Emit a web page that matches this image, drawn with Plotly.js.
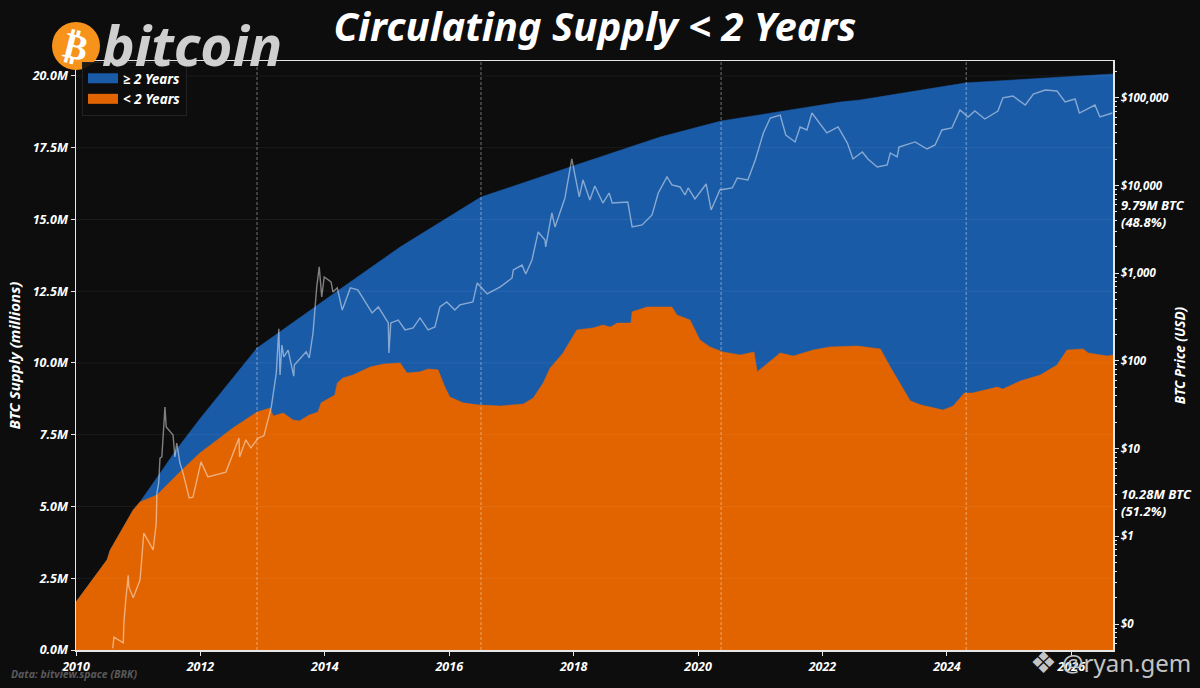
<!DOCTYPE html>
<html>
<head>
<meta charset="utf-8">
<script src="https://cdn.plot.ly/plotly-3.0.1.min.js"></script>
<style>html,body{margin:0;padding:0;background:#0d0d0d}#chart{width:1200px;height:688px}</style>
</head>
<body>
<div id="chart"></div>
<script>
const totalYears = [2010.00,2010.50,2010.55,2010.92,2011.03,2011.61,2011.99,2012.91,2014.18,2015.21,2016.51,2016.85,2017.99,2019.39,2020.37,2022.28,2022.60,2024.31,2026.67];
const totalSupply = [1.67,3.14,3.48,4.88,5.16,6.97,8.05,10.52,12.47,14.04,15.78,16.03,16.86,17.87,18.43,19.09,19.16,19.76,20.07];

const youngYears = [2010.00,2010.50,2010.55,2010.92,2011.03,2011.30,2011.67,2011.99,2012.27,2012.52,2012.91,2013.12,2013.17,2013.33,2013.49,2013.59,2013.75,2013.89,2013.94,2014.16,2014.20,2014.29,2014.45,2014.73,2014.94,2015.21,2015.32,2015.53,2015.66,2015.82,2015.93,2016.01,2016.22,2016.45,2016.82,2017.19,2017.35,2017.51,2017.62,2017.83,2018.05,2018.31,2018.47,2018.59,2018.70,2018.92,2018.94,2019.18,2019.58,2019.66,2019.87,2020.03,2020.19,2020.40,2020.68,2020.90,2020.95,2021.32,2021.53,2021.85,2022.12,2022.56,2022.93,2023.09,2023.41,2023.57,2023.94,2024.10,2024.28,2024.41,2024.81,2024.90,2025.18,2025.50,2025.77,2025.93,2026.19,2026.27,2026.58,2026.67];
const youngSupply = [1.67,3.14,3.48,4.88,5.16,5.40,6.20,6.86,7.32,7.73,8.29,8.43,8.15,8.26,8.01,7.98,8.19,8.29,8.61,8.88,9.30,9.48,9.58,9.86,9.96,10.00,9.65,9.69,9.79,9.76,9.16,8.81,8.61,8.54,8.50,8.57,8.78,9.30,9.82,10.35,11.15,11.22,11.32,11.25,11.39,11.39,11.78,11.95,11.95,11.67,11.50,10.80,10.56,10.38,10.28,10.38,9.69,10.35,10.24,10.45,10.56,10.59,10.49,9.86,8.68,8.54,8.36,8.50,8.95,8.95,9.16,9.09,9.37,9.58,9.93,10.45,10.49,10.35,10.24,10.28];

const priceYears = [2010.59,2010.61,2010.76,2010.77,2010.80,2010.84,2010.85,2010.92,2011.03,2011.09,2011.24,2011.29,2011.30,2011.33,2011.35,2011.38,2011.43,2011.45,2011.56,2011.59,2011.62,2011.67,2011.72,2011.82,2011.88,2012.01,2012.12,2012.25,2012.41,2012.62,2012.63,2012.73,2012.81,2012.93,2013.02,2013.14,2013.22,2013.26,2013.28,2013.31,2013.34,2013.41,2013.50,2013.51,2013.70,2013.75,2013.81,2013.87,2013.91,2013.95,2013.99,2014.10,2014.13,2014.20,2014.28,2014.41,2014.53,2014.76,2014.86,2015.02,2015.03,2015.06,2015.18,2015.29,2015.42,2015.53,2015.66,2015.77,2015.85,2015.96,2016.09,2016.17,2016.38,2016.45,2016.61,2016.82,2017.01,2017.03,2017.17,2017.23,2017.33,2017.43,2017.54,2017.55,2017.65,2017.70,2017.86,2017.97,2018.09,2018.15,2018.26,2018.34,2018.47,2018.57,2018.62,2018.87,2018.94,2019.10,2019.26,2019.36,2019.50,2019.58,2019.71,2019.79,2019.84,2019.95,2020.13,2020.21,2020.35,2020.55,2020.63,2020.80,2020.92,2021.05,2021.16,2021.32,2021.41,2021.56,2021.64,2021.75,2021.83,2022.07,2022.25,2022.40,2022.49,2022.64,2022.73,2022.88,2023.04,2023.09,2023.20,2023.23,2023.49,2023.68,2023.81,2023.92,2024.08,2024.21,2024.34,2024.45,2024.61,2024.82,2024.90,2025.06,2025.26,2025.39,2025.58,2025.77,2025.90,2026.06,2026.13,2026.38,2026.46,2026.66];
const priceUsd = [0.053,0.071,0.061,0.103,0.188,0.36,0.265,0.20,0.32,1.09,0.70,1.42,3.1,4.1,7.8,8.05,29.9,17.7,14.3,8.05,11.6,6.9,5.3,2.74,2.8,7.06,4.76,5.0,5.4,13.2,8.05,12.6,10.2,13.2,14.0,29.9,73,232,69,152,111,133,67,90,127,108,208,698,1180,537,907,795,612,680,381,680,645,353,413,271,123,271,293,226,238,309,226,244,413,471,381,435,471,775,581,698,883,1090,1240,982,1417,2957,2395,1995,4865,3370,7215,20090,7410,11570,6840,9890,6320,8220,6320,6500,3370,3550,4615,8220,12530,10150,9630,7800,9380,7030,10420,5265,8900,9380,12190,11570,19550,39800,58900,63700,37700,31400,46500,43000,67100,39800,46500,30500,20090,24150,20090,16300,17140,23500,21200,27500,31400,26100,29000,43000,45300,72700,60500,70800,57400,70800,100000,105000,82800,110600,122800,119700,89700,97000,67100,82800,60500,67100];

const halvingYears = [2012.91,2016.51,2020.37,2024.31];
const supplyTicks = [0,2.5,5,7.5,10,12.5,15,17.5,20];
const supplyLabels = ['0.0M','2.5M','5.0M','7.5M','10.0M','12.5M','15.0M','17.5M','20.0M'];
const yearTicks = [2010,2012,2014,2016,2018,2020,2022,2024,2026];
const priceTicks = [0.1,1,10,100,1000,10000,100000];
const priceLabels = ['$0','$1','$10','$100','$1,000','$10,000','$100,000'];
const legendNames = ['≥ 2 Years', '< 2 Years'];

const FONT = '"Noto Sans", "Open Sans", sans-serif';
const bi = (size, color) => ({family: FONT, size, color: color || '#ffffff', weight: 700, style: 'italic'});
const BLUE = '#1a5ba8', ORANGE = '#e26400', BG = '#0d0d0d', AXIS = '#e6e6e6';

const traces = [
  {x: totalYears, y: totalSupply, name: legendNames[0], type: 'scatter', mode: 'lines', fill: 'tozeroy',
   fillcolor: BLUE, line: {color: BLUE, width: 0.5}, showlegend: false, hoverinfo: 'skip'},
  {x: youngYears, y: youngSupply, name: legendNames[1], type: 'scatter', mode: 'lines', fill: 'tozeroy',
   fillcolor: ORANGE, line: {color: ORANGE, width: 0.5}, showlegend: false, hoverinfo: 'skip'},
  {x: priceYears, y: priceUsd, name: 'BTC Price', yaxis: 'y2', type: 'scatter', mode: 'lines',
   line: {color: 'rgba(255,255,255,0.48)', width: 1.4}, showlegend: false, hoverinfo: 'skip'},
  {x: [null], y: [null], name: legendNames[0], type: 'scatter', mode: 'lines', line: {color: BLUE, width: 10}, hoverinfo: 'skip'},
  {x: [null], y: [null], name: legendNames[1], type: 'scatter', mode: 'lines', line: {color: ORANGE, width: 10}, hoverinfo: 'skip'}
];

const shapes = [];
supplyTicks.forEach(v => shapes.push({type: 'line', xref: 'paper', x0: 0, x1: 1, yref: 'y', y0: v, y1: v,
  line: {color: 'rgba(255,255,255,0.06)', width: 1}, layer: 'above'}));
halvingYears.forEach(v => shapes.push({type: 'line', xref: 'x', x0: v, x1: v, yref: 'paper', y0: 0, y1: 1,
  line: {color: 'rgba(255,255,255,0.42)', width: 1, dash: '3px,2px'}, layer: 'above'}));
shapes.push({type: 'circle', xsizemode: 'pixel', ysizemode: 'pixel', xref: 'paper', yref: 'paper',
  xanchor: 0, yanchor: 1.0255, x0: -24, x1: 24, y0: -24, y1: 24,
  fillcolor: '#f7931a', line: {width: 0}, layer: 'above'});

const pxAnn = (text, x, y, font, extra) => Object.assign({
  text, xref: 'paper', yref: 'paper', x: (x - 76) / 1037, y: (650 - y) / 589,
  showarrow: false, font, xanchor: 'left', yanchor: 'middle', align: 'left'
}, extra || {});

const annotations = [
  pxAnn('₿', 76, 46, {family: '"DejaVu Sans"', size: 36, color: '#ffffff', weight: 700}, {xanchor: 'center', textangle: 14}),
  pxAnn('bitcoin', 100, 45, bi(55, '#cfcfcf')),
  pxAnn('9.79M BTC<br>(48.8%)', 1119, 213, bi(13)),
  pxAnn('10.28M BTC<br>(51.2%)', 1119, 502, bi(13)),
  pxAnn('Data: bitview.space (BRK)', 9, 674, bi(10.5, '#5a5a5a')),
  pxAnn('❖', 1043, 662, {family: '"DejaVu Sans"', size: 30, color: '#c4c4c4'}, {xanchor: 'center'}),
  pxAnn('@ryan.gem', 1060, 662, {family: FONT, size: 24, color: '#c4c4c4'})
];

const layout = {
  width: 1200, height: 688,
  paper_bgcolor: BG, plot_bgcolor: BG,
  margin: {l: 76, r: 87, t: 61, b: 38, pad: 0},
  title: {text: 'Circulating Supply < 2 Years', x: 600.5 / 1200, xanchor: 'center', xref: 'paper',
          y: 1 - 27 / 688, yref: 'container', yanchor: 'middle', font: bi(40)},
  showlegend: true,
  legend: {x: 6 / 1037, y: 588 / 589, xanchor: 'left', yanchor: 'top', bgcolor: 'rgba(13,13,13,0.9)',
           bordercolor: '#222222', borderwidth: 1, font: bi(13.5), itemwidth: 30, traceorder: 'normal'},
  xaxis: {type: 'linear', range: [2010, 2026.67], tickmode: 'array', tickvals: yearTicks, ticktext: yearTicks.map(String),
          tickfont: bi(12.5), ticks: 'outside', ticklen: 4, tickcolor: AXIS, showgrid: false, zeroline: false,
          showline: true, linecolor: AXIS, linewidth: 1.5, mirror: true},
  yaxis: {range: [0, 20.52], tickmode: 'array', tickvals: supplyTicks, ticktext: supplyLabels,
          tickfont: bi(12.5), ticks: 'outside', ticklen: 4, tickcolor: AXIS, showgrid: false, zeroline: false,
          showline: true, linecolor: AXIS, linewidth: 1.5,
          title: {text: 'BTC Supply (millions)', font: bi(15), standoff: 7}},
  yaxis2: {type: 'log', overlaying: 'y', side: 'right', anchor: 'x', range: [-1.296, 5.42],
           tickmode: 'array', tickvals: priceTicks, ticktext: priceLabels,
           tickfont: bi(11.5), ticks: 'outside', ticklen: 4, tickcolor: AXIS, showgrid: false, zeroline: false,
           showline: true, linecolor: AXIS, linewidth: 1.5,
           minor: {ticks: 'outside', ticklen: 2.5, dtick: 'D1', tickcolor: AXIS, showgrid: false},
           title: {text: 'BTC Price (USD)', font: bi(13.5), standoff: 7}},
  shapes, annotations
};

Plotly.newPlot('chart', traces, layout, {staticPlot: true, displayModeBar: false});
</script>
</body>
</html>
